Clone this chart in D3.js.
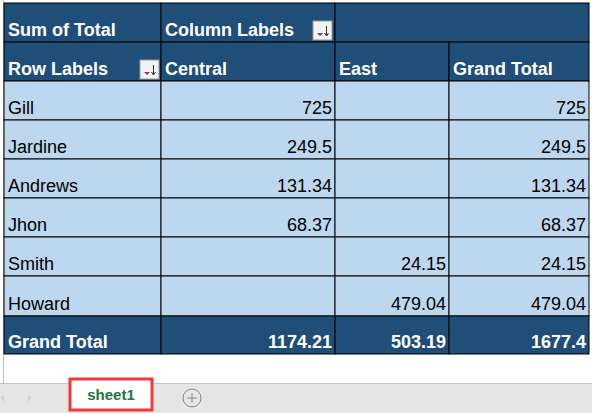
<!DOCTYPE html>
<html><head><meta charset="utf-8">
<script src="https://cdn.jsdelivr.net/npm/d3@7"></script>
<style>body{margin:0;background:#fff}</style>
</head><body><div id="chart"></div>
<script>
const width = 592
const height = 413

const names = ["Gill", "Jardine", "Andrews", "Jhon", "Smith", "Howard"]
const central = ["725", "249.5", "131.34", "68.37", "", ""]
const east = ["", "", "", "", "24.15", "479.04"]
const grand = ["725", "249.5", "131.34", "68.37", "24.15", "479.04"]
const totals = ["1174.21", "503.19", "1677.4"]

const colEdges = [4, 161, 335, 449, 589]
const rowEdges = [3, 42, 81, 120, 159, 198, 237, 276, 316, 354]
const dark = "#1f4e79", light = "#bdd7ee"
const font = "'Liberation Sans', Arial, sans-serif"

const svg = d3.select("#chart").append("svg").attr("width", width).attr("height", height)

// left gridline
svg.append("line").attr("x1", 3.5).attr("x2", 3.5).attr("y1", 0).attr("y2", 383).attr("stroke", "#bbb")

const x = i => colEdges[i]
const y = i => rowEdges[i]

function cell(r, c, fill, txt, color, bold, right, cspan = 1) {
    svg.append("rect").attr("x", x(c)).attr("y", y(r)).attr("width", x(c + cspan) - x(c))
        .attr("height", y(r + 1) - y(r)).attr("fill", fill).attr("stroke", "#000").attr("stroke-width", 1)
    if (txt === "") return
    svg.append("text").attr("x", right ? x(c + cspan) - 3 : x(c) + 4).attr("y", y(r + 1) - 6)
        .attr("text-anchor", right ? "end" : "start").attr("font-family", font).attr("font-size", 18)
        .attr("font-weight", bold ? "bold" : "normal").attr("fill", color).text(txt)
}

function dropBtn(bx, by) {
    const g = svg.append("g").attr("transform", `translate(${bx},${by})`)
    g.append("rect").attr("width", 19).attr("height", 19).attr("fill", "#f2f2f2").attr("stroke", "#999")
    g.append("path").attr("d", "M4,12 L10,12 L7,15 Z").attr("fill", "#7a3d6e")
    g.append("line").attr("x1", 13.5).attr("x2", 13.5).attr("y1", 5).attr("y2", 14).attr("stroke", "#333")
    g.append("path").attr("d", "M11.5,12 L13.5,15 L15.5,12").attr("fill", "none").attr("stroke", "#333")
}

// header rows
cell(0, 0, dark, "Sum of Total", "#fff", true, false)
cell(0, 1, dark, "Column Labels", "#fff", true, false)
cell(0, 2, dark, "", "#fff", true, false, 2)
cell(1, 0, dark, "Row Labels", "#fff", true, false)
cell(1, 1, dark, "Central", "#fff", true, false)
cell(1, 2, dark, "East", "#fff", true, false)
cell(1, 3, dark, "Grand Total", "#fff", true, false)
dropBtn(313, 21)
dropBtn(140, 60)

names.forEach((n, i) => {
    cell(i + 2, 0, light, n, "#000", false, false)
    cell(i + 2, 1, light, central[i], "#000", false, true)
    cell(i + 2, 2, light, east[i], "#000", false, true)
    cell(i + 2, 3, light, grand[i], "#000", false, true)
})

cell(8, 0, dark, "Grand Total", "#fff", true, false)
totals.forEach((t, i) => cell(8, i + 1, dark, t, "#fff", true, true))

// sheet tab bar
svg.append("rect").attr("x", 0).attr("y", 383).attr("width", width).attr("height", 30).attr("fill", "#e6e6e6")
svg.append("line").attr("x1", 0).attr("x2", width).attr("y1", 383.5).attr("y2", 383.5).attr("stroke", "#c6c6c6")
svg.append("path").attr("d", "M4,394 L0,398 L4,402 Z").attr("fill", "#c9dfc9")
svg.append("path").attr("d", "M28,394 L32,398 L28,402 Z").attr("fill", "#c9dfc9")
svg.append("rect").attr("x", 70).attr("y", 379).attr("width", 82).attr("height", 31).attr("fill", "#fff")
    .attr("stroke", "#f03a3a").attr("stroke-width", 3)
svg.append("text").attr("x", 111).attr("y", 400).attr("text-anchor", "middle").attr("font-family", font)
    .attr("font-size", 15).attr("font-weight", "bold").attr("fill", "#217346").text("sheet1")
svg.append("circle").attr("cx", 192).attr("cy", 398).attr("r", 9).attr("fill", "none").attr("stroke", "#888")
svg.append("path").attr("d", "M187,398 H197 M192,393 V403").attr("stroke", "#888")
</script>
</body></html>
